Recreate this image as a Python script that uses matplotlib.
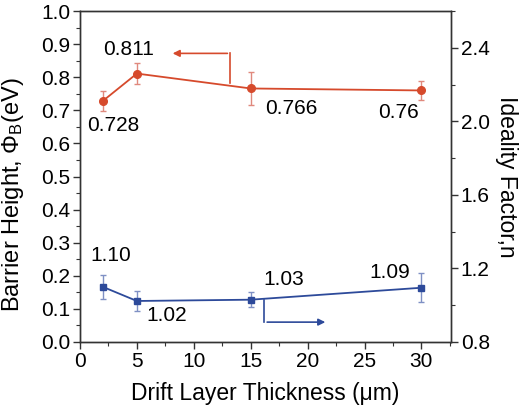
import matplotlib
matplotlib.use("Agg")
import matplotlib.pyplot as plt
from matplotlib.ticker import MultipleLocator, FormatStrFormatter

plt.rcParams['font.family'] = ['Liberation Sans', 'DejaVu Sans']
plt.rcParams['mathtext.fontset'] = 'custom'
plt.rcParams['mathtext.rm'] = 'Liberation Sans'
plt.rcParams['mathtext.it'] = 'Liberation Sans'

thickness = [2, 5, 15, 30]
barrier = [0.728, 0.811, 0.766, 0.76]
barrier_err = [0.03, 0.031, 0.05, 0.03]
ideality = [1.10, 1.023, 1.03, 1.095]
ideality_err = [0.065, 0.055, 0.04, 0.08]
barrier_labels = ["0.728", "0.811", "0.766", "0.76"]
ideality_labels = ["1.10", "1.02", "1.03", "1.09"]

red = "#d64a2c"
red_err = "#e0897d"
blue = "#2d4a9a"
blue_err = "#7f90c4"

fig = plt.figure(figsize=(5.2, 4.08), dpi=100)
ax = fig.add_axes([0.1538, 0.1618, 0.7135, 0.8112])
ax2 = ax.twinx()

ax.errorbar(thickness, barrier, yerr=barrier_err, color=red, ecolor=red_err,
            marker='o', ms=5.5, lw=1.3, elinewidth=1.0, capsize=2.5, capthick=1.0, zorder=3)
ax2.errorbar(thickness, ideality, yerr=ideality_err, color=blue, ecolor=blue_err,
             marker='s', ms=4.5, lw=1.3, elinewidth=1.0, capsize=2.5, capthick=1.0, zorder=3)

ax.set_xlim(0, 32.6)
ax.set_ylim(0, 1.0)
ax2.set_ylim(0.8, 2.6)

ax.xaxis.set_major_locator(MultipleLocator(5))
ax.xaxis.set_minor_locator(MultipleLocator(2.5))
ax.yaxis.set_major_locator(MultipleLocator(0.1))
ax.yaxis.set_minor_locator(MultipleLocator(0.05))
ax2.yaxis.set_major_locator(MultipleLocator(0.4))
ax2.yaxis.set_minor_locator(MultipleLocator(0.2))
ax2.set_yticks([0.8, 1.2, 1.6, 2.0, 2.4])

for a in (ax, ax2):
    a.tick_params(which='major', direction='out', length=5, width=1.0, labelsize=15,
                  color='#333333', pad=2)
    a.tick_params(which='minor', direction='out', length=3, width=0.8, color='#333333')
    for s in a.spines.values():
        s.set_linewidth(1.0)
        s.set_color('#333333')

ax.yaxis.set_major_formatter(FormatStrFormatter('%.1f'))
ax2.yaxis.set_major_formatter(FormatStrFormatter('%.1f'))

ax.set_xlabel("Drift Layer Thickness (\u03bcm)", fontsize=16.5, labelpad=8)
ax.set_ylabel(r"Barrier Height, $\Phi_\mathrm{B}$(eV)", fontsize=17)
ax.yaxis.set_label_coords(-0.145, 0.445)
ax2.set_ylabel("Ideality Factor,n", fontsize=16.5, rotation=270, labelpad=20)

# value labels (text positions in data coordinates)
b_pos = [(2.95, 0.654), (4.27, 0.885), (18.6, 0.706), (28.0, 0.692)]
for (px, py), t in zip(b_pos, barrier_labels):
    ax.text(px, py, t, fontsize=15, ha='center', va='center')
i_pos = [(2.71, 1.270), (7.65, 0.944), (17.9, 1.140), (27.2, 1.179)]
for (px, py), t in zip(i_pos, ideality_labels):
    ax2.text(px, py, t, fontsize=15, ha='center', va='center')

# direction arrows
ax.plot([13.2, 13.2], [0.783, 0.872], color=red, lw=1.2)
ax.annotate("", xy=(7.9, 0.872), xytext=(13.2, 0.872),
            arrowprops=dict(arrowstyle='-|>', color=red, lw=1.2, mutation_scale=10))
ax2.plot([16.2, 16.2], [1.03, 0.908], color=blue, lw=1.2)
ax2.annotate("", xy=(21.8, 0.908), xytext=(16.2, 0.908),
             arrowprops=dict(arrowstyle='-|>', color=blue, lw=1.2, mutation_scale=10))

fig.savefig("out.png", dpi=100)
